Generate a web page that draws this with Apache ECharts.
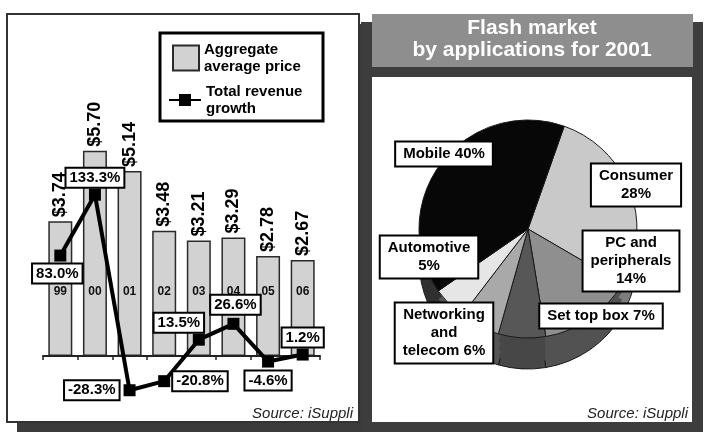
<!DOCTYPE html>
<html><head><meta charset="utf-8">
<script src="https://cdn.jsdelivr.net/npm/echarts@6/dist/echarts.min.js"></script>
<style>html,body{margin:0;padding:0;background:#fff}#c{width:713px;height:441px}</style>
</head><body><div id="c"></div>
<script>
// ---- data ----
const years = ['99','00','01','02','03','04','05','06'];
const avgPrice = [3.74, 5.70, 5.14, 3.48, 3.21, 3.29, 2.78, 2.67];
const revenueGrowth = [83.0, 133.3, -28.3, -20.8, 13.5, 26.6, -4.6, 1.2];
const legendNames = ['Aggregate average price', 'Total revenue growth'];
const pieNames = ['Consumer', 'PC and peripherals', 'Set top box', 'Networking and telecom', 'Automotive', 'Mobile'];
const pieValues = [28, 14, 7, 6, 5, 40];
const pieTitle = ['Flash market', 'by applications for 2001'];
const sourceText = 'Source: iSuppli';

// ---- styles / layout ----
const FONT = '"Liberation Sans", Arial, Helvetica, sans-serif';
const legendText = {'Aggregate average price': 'Aggregate\naverage price', 'Total revenue growth': 'Total revenue\ngrowth'};
const pieNameText = {'Consumer': 'Consumer\n', 'PC and peripherals': 'PC and\nperipherals\n', 'Set top box': 'Set top box ',
  'Networking and telecom': 'Networking\nand\ntelecom ', 'Automotive': 'Automotive\n', 'Mobile': 'Mobile '};
const pieColors = ['#c9c9c9', '#8f8f8f', '#575757', '#a9a9a9', '#e6e6e6', '#070707'];
const pieSideColors = ['#7d7d7d', '#525252', '#474747', '#555555', '#555555', '#303030'];
const pieLabelCenters = [[636, 185], [631, 261], [601, 316], [444, 333], [429, 257], [444, 154]];
const lineLabelCfg = [
  {position: 'bottom', distance: 3, offset: [-3, 0]},
  {position: 'top', distance: 2},
  {position: 'left', distance: 5},
  {position: 'right', distance: 3},
  {position: 'top', distance: 2, offset: [-20, 0]},
  {position: 'top', distance: 4, offset: [2, 0]},
  {position: 'bottom', distance: 4},
  {position: 'top', distance: 2}
];
const PIE_C = [528, 229], PIE_R = 109, PIE_START = 70.6;

const chart = echarts.init(document.getElementById('c'), null, {renderer: 'canvas'});

const pieData = (colors) => pieNames.map((n, i) => ({name: n, value: pieValues[i], itemStyle: {color: colors[i]}}));
const sideLayers = [31, 24, 16, 8].map((d, k) => ({
  type: 'pie', silent: true, center: [PIE_C[0], PIE_C[1] + d], radius: PIE_R,
  startAngle: PIE_START, clockwise: true, z: 2 + k * 0.1,
  data: pieData(pieSideColors),
  itemStyle: {borderColor: '#1a1a1a', borderWidth: k === 0 ? 1 : 0},
  label: {show: false}, labelLine: {show: false}, emphasis: {disabled: true}
}));

const option = {
  animation: false,
  graphic: [
    {type: 'rect', z: 0, shape: {x: 17, y: 24, width: 345, height: 408}, style: {fill: '#3b3b3b'}},
    {type: 'rect', z: 0, shape: {x: 7, y: 14, width: 352, height: 408}, style: {fill: '#fff', stroke: '#333', lineWidth: 2}},
    {type: 'rect', z: 0, shape: {x: 361, y: 22, width: 342, height: 410}, style: {fill: '#3d3d3d'}},
    {type: 'rect', z: 0, shape: {x: 372, y: 14, width: 321, height: 53}, style: {fill: '#8e8e8e'}},
    {type: 'rect', z: 0, shape: {x: 372, y: 77, width: 320, height: 345}, style: {fill: '#fff'}},
    {type: 'rect', z: 1, shape: {x: 160, y: 33, width: 163, height: 88}, style: {fill: '#fff', stroke: '#000', lineWidth: 3}},
    {type: 'text', z: 10, style: {text: pieTitle.join('\n'), x: 532, y: 17, align: 'center', verticalAlign: 'top',
      fill: '#fff', fontSize: 21, fontWeight: 'bold', fontFamily: FONT, lineHeight: 22}},
    {type: 'text', z: 10, style: {text: sourceText, x: 353, y: 421, align: 'right', verticalAlign: 'bottom',
      fill: '#222', fontSize: 15, fontStyle: 'italic', fontFamily: FONT}},
    {type: 'text', z: 10, style: {text: sourceText, x: 688, y: 421, align: 'right', verticalAlign: 'bottom',
      fill: '#222', fontSize: 15, fontStyle: 'italic', fontFamily: FONT}}
  ],
  legend: [
    {data: [{name: legendNames[0], icon: 'rect'}], left: 172, top: 41, padding: 0, itemWidth: 26, itemHeight: 25, selectedMode: false,
      formatter: n => legendText[n], textStyle: {fontSize: 15, fontWeight: 'bold', lineHeight: 17, color: '#000', fontFamily: FONT}},
    {data: [legendNames[1]], left: 168, top: 83, padding: 0, itemWidth: 32, itemHeight: 15, selectedMode: false,
      formatter: n => legendText[n], textStyle: {fontSize: 15, fontWeight: 'bold', lineHeight: 17, color: '#000', fontFamily: FONT}}
  ],
  grid: {left: 43, right: 393, top: 100, bottom: 41},
  xAxis: {
    type: 'category', data: years, boundaryGap: true, z: 6,
    axisLine: {onZero: true, lineStyle: {color: '#222', width: 2}},
    axisTick: {show: true, length: 4, lineStyle: {color: '#222', width: 1.5}},
    axisLabel: {inside: true, margin: 61, padding: [0, 0, 41, 0], fontSize: 12, fontWeight: 'bold', color: '#111', fontFamily: FONT},
    splitLine: {show: false}
  },
  yAxis: [
    {type: 'value', min: -1.2222, max: 7.1111, show: false, splitLine: {show: false}},
    {type: 'value', min: -36.36, max: 211.57, show: false, splitLine: {show: false}}
  ],
  series: [
    {
      name: legendNames[0], type: 'bar', data: avgPrice, barWidth: 24, z: 2,
      itemStyle: {color: '#d2d2d2', borderColor: '#2a2a2a', borderWidth: 1.5},
      label: {show: true, position: 'top', rotate: 90, align: 'left', verticalAlign: 'middle', distance: 4,
        formatter: p => '$' + p.value.toFixed(2), fontSize: 18, fontWeight: 'bold', color: '#000', fontFamily: FONT},
      emphasis: {disabled: true}
    },
    {
      name: legendNames[1], type: 'line', yAxisIndex: 1, z: 7,
      data: revenueGrowth.map((v, i) => ({value: v, label: lineLabelCfg[i]})),
      symbol: 'rect', symbolSize: 12, showAllSymbol: true,
      lineStyle: {color: '#000', width: 4}, itemStyle: {color: '#000'},
      label: {show: true, formatter: p => p.value.toFixed(1) + '%', backgroundColor: '#fff', borderColor: '#000',
        borderWidth: 2, padding: [2, 3, 1, 3], fontSize: 15, fontWeight: 'bold', lineHeight: 15, color: '#000', fontFamily: FONT},
      emphasis: {disabled: true}
    },
    ...sideLayers,
    {
      type: 'pie', center: PIE_C, radius: PIE_R, startAngle: PIE_START, clockwise: true, z: 3,
      avoidLabelOverlap: false, data: pieData(pieColors),
      itemStyle: {borderColor: '#1a1a1a', borderWidth: 1},
      label: {show: true, position: 'outside', formatter: p => pieNameText[p.name] + p.value + '%',
        backgroundColor: '#fff', borderColor: '#000', borderWidth: 2, padding: [3, 7, 2, 7],
        fontSize: 15, fontWeight: 'bold', lineHeight: 18, color: '#000', fontFamily: FONT, align: 'center'},
      labelLine: {show: false},
      labelLayout: p => ({x: pieLabelCenters[p.dataIndex][0], y: pieLabelCenters[p.dataIndex][1], align: 'center', verticalAlign: 'middle'}),
      emphasis: {disabled: true}
    }
  ]
};
chart.setOption(option);
</script>
</body></html>
